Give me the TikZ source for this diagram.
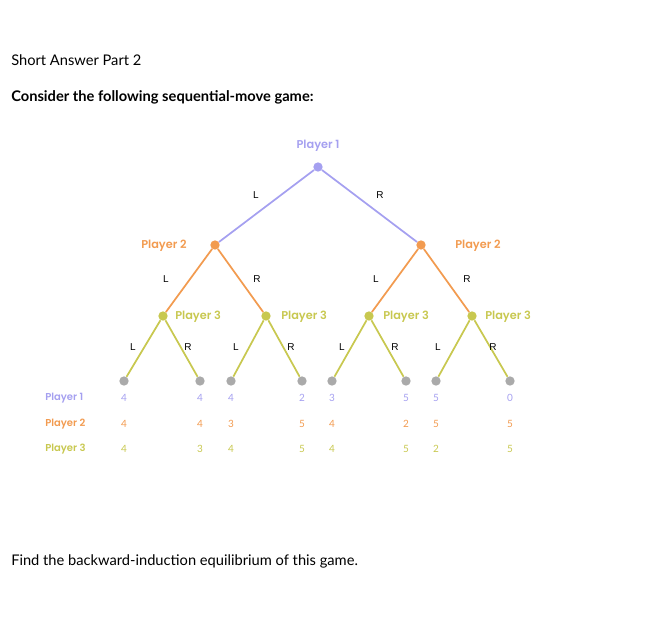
\documentclass[tikz,border=0pt]{standalone}
\usepackage{fontspec}
\setmainfont{Lato}
\newfontfamily\arialf{Liberation Sans}
\newfontfamily\labf{Poppins}[UprightFont=* SemiBold]
\definecolor{pone}{RGB}{165,160,240}
\definecolor{ptwo}{RGB}{242,155,80}
\definecolor{pthree}{RGB}{200,200,80}
\definecolor{leafc}{RGB}{170,170,170}
\begin{document}
\begin{tikzpicture}[x=0.75pt,y=-0.75pt,
  dotn/.style={circle,fill=#1,inner sep=0pt,minimum size=7pt},
  plab/.style={font=\labf\fontsize{8.5}{10}\selectfont,text=#1,inner sep=0pt},
  elab/.style={font=\arialf\fontsize{7.5}{8}\selectfont},
  pay/.style={font=\fontsize{7.5}{8}\selectfont,text=#1},
  edge/.style={draw=#1,line width=1.3pt}]
\useasboundingbox (0,0) rectangle (664,628);
\node[anchor=west,inner sep=0pt,font=\fontsize{11}{12}\selectfont] (t1) at (11,60) {Short Answer Part 2};
\node[anchor=west,inner sep=0pt,font=\bfseries\fontsize{11}{12}\selectfont] (t2) at (11,97) {Consider the following sequential-move game:};
\node[anchor=west,inner sep=0pt,font=\fontsize{11}{12}\selectfont] (t3) at (11,561) {Find the backward-induction equilibrium of this game.};
% nodes
\node[dotn=pone] (r) at (318,167) {};
\node[dotn=ptwo] (a) at (215,245) {};
\node[dotn=ptwo] (b) at (421,245) {};
\node[dotn=pthree] (c1) at (163,316) {};
\node[dotn=pthree] (c2) at (266,316) {};
\node[dotn=pthree] (c3) at (369,316) {};
\node[dotn=pthree] (c4) at (472,316) {};
\foreach \i/\x in {1/124,2/200,3/231,4/302,5/332,6/406,7/436,8/510}
  \node[dotn=leafc] (l\i) at (\x,381) {};
% edges
\path[edge=pone] (r) -- (a); \path[edge=pone] (r) -- (b);
\path[edge=ptwo] (a) -- (c1); \path[edge=ptwo] (a) -- (c2);
\path[edge=ptwo] (b) -- (c3); \path[edge=ptwo] (b) -- (c4);
\path[edge=pthree] (c1) -- (l1); \path[edge=pthree] (c1) -- (l2);
\path[edge=pthree] (c2) -- (l3); \path[edge=pthree] (c2) -- (l4);
\path[edge=pthree] (c3) -- (l5); \path[edge=pthree] (c3) -- (l6);
\path[edge=pthree] (c4) -- (l7); \path[edge=pthree] (c4) -- (l8);
% player labels
\node[plab=pone] (n1) at (318,146) {Player 1};
\node[plab=ptwo,anchor=west] (n2a) at (141,246) {Player 2};
\node[plab=ptwo,anchor=west] (n2b) at (455,246) {Player 2};
\foreach \i/\x in {1/175,2/281,3/383,4/485}
  \node[plab=pthree,anchor=west] (n3\i) at (\x,317) {Player 3};
% edge labels
\foreach \t/\x/\y [count=\k] in {L/256/195,R/380/195,L/166/279,R/257/279,L/376/279,R/467/279,
  L/133/347,R/188/347,L/236/347,R/291/347,L/342/347,R/395/347,L/438/347,R/493/347}
  \node[elab] (e\k) at (\x,\y) {\t};
% row labels
\node[plab=pone,anchor=west,font=\labf\fontsize{7.5}{8}\selectfont] (rl1) at (45,398) {Player 1};
\node[plab=ptwo,anchor=west,font=\labf\fontsize{7.5}{8}\selectfont] (rl2) at (45,424) {Player 2};
\node[plab=pthree,anchor=west,font=\labf\fontsize{7.5}{8}\selectfont] (rl3) at (45,449) {Player 3};
% payoffs
\foreach \i/\a/\b/\c in {1/4/4/4,2/4/4/3,3/4/3/4,4/2/5/5,5/3/4/4,6/5/2/5,7/5/5/2,8/0/5/5}{
  \node[pay=pone] (pa\i) at ([yshift=-17*0.75pt]l\i) {\a};
  \node[pay=ptwo] (pb\i) at ([yshift=-43*0.75pt]l\i) {\b};
  \node[pay=pthree] (pc\i) at ([yshift=-68*0.75pt]l\i) {\c};
}
\end{tikzpicture}
\end{document}
